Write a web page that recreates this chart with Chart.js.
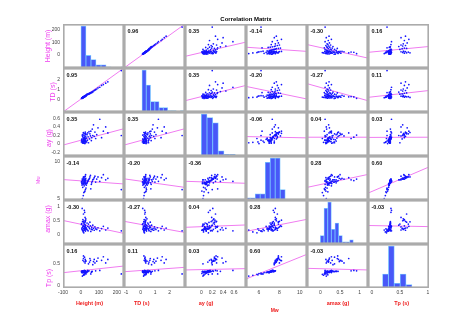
<!DOCTYPE html>
<html>
<head>
<meta charset="utf-8">
<title>Correlation Matrix</title>
<script src="https://cdn.jsdelivr.net/npm/chart.js@4.4.1/dist/chart.umd.min.js"></script>
<style>
  body { margin: 0; background: #fff; }
  #wrap { position: relative; width: 474px; height: 324px; overflow: hidden; font-family: "Liberation Sans", Arial, sans-serif; }
  #wrap canvas { position: absolute; left: 0; top: 0; }
  .lbl { position: absolute; white-space: nowrap; line-height: 1; transform: translate(-50%, -50%); }
  .ylbl { transform: translate(-50%, -50%) rotate(-90deg); }
</style>
</head>
<body>
<div id="wrap"></div>
<script>
// Variables in the matrix (same order for rows and columns)
const varNames = ["Height (m)", "TD (s)", "ay (g)", "Mw", "amax (g)", "Tp (s)"];

// Records, one entry per event
const heightM = [3, 5, 6, 8, 9, 10, 11, 12, 12, 13, 14, 15, 15, 16, 17, 18, 18, 19, 20, 20, 21, 22, 22, 23, 24, 24, 25, 25, 26, 27, 27, 28, 4, 7, 10, 14, 17, 21, 23, 26, 12, 19,
  30, 32, 34, 36, 38, 40, 42, 45, 48, 50, 53, 55, 58, 60, 63, 66, 70, 74, 78, 82, 88, 95, 105, 115, 125, 138, 150, 225];
const tdS = [0.12, 0.18, 0.15, 0.20, 0.22, 0.19, 0.24, 0.21, 0.27, 0.23, 0.28, 0.25, 0.30, 0.26, 0.31, 0.29, 0.33, 0.27, 0.34, 0.30, 0.36, 0.32, 0.37, 0.35, 0.38, 0.33, 0.40, 0.36, 0.41, 0.39, 0.43, 0.38, 0.16, 0.14, 0.25, 0.22, 0.26, 0.31, 0.40, 0.35, 0.19, 0.32,
  0.45, 0.52, 0.48, 0.55, 0.50, 0.58, 0.54, 0.62, 0.57, 0.66, 0.63, 0.70, 0.72, 0.68, 0.80, 0.75, 0.85, 0.90, 0.95, 0.98, 1.05, 1.15, 1.22, 1.40, 1.48, 1.62, 1.75, 2.85];
const ayG = [0.05, 0.08, 0.12, 0.03, 0.18, 0.06, 0.22, 0.09, 0.15, 0.04, 0.26, 0.10, 0.07, 0.13, 0.20, 0.02, 0.11, 0.16, 0.05, 0.24, 0.08, 0.14, 0.01, 0.19, 0.06, 0.28, 0.09, 0.12, 0.03, 0.17, 0.23, 0.07, 0.10, 0.21, 0.04, 0.27, 0.06, 0.13, 0.08, 0.25, 0.02, 0.11,
  0.14, 0.05, 0.22, 0.09, 0.26, 0.17, 0.03, 0.29, 0.12, 0.24, 0.19, 0.30, 0.08, 0.15, 0.35, 0.20, 0.45, 0.18, 0.28, 0.13, 0.22, 0.38, 0.58, 0.15, 0.30, 0.40, 0.26, 0.20];
const mw = [7.2, 7.0, 6.8, 5.0, 7.4, 7.1, 7.6, 6.9, 7.3, 5.4, 7.8, 7.0, 7.5, 5.8, 7.7, 7.2, 6.7, 7.4, 5.9, 7.9, 7.1, 7.3, 6.0, 7.6, 7.0, 8.0, 6.2, 7.2, 7.5, 7.4, 7.7, 6.4, 7.3, 7.6, 6.5, 7.9, 7.1, 7.5, 6.9, 8.2, 7.0, 7.2,
  6.8, 7.0, 7.1, 7.2, 7.3, 7.4, 7.5, 7.6, 7.7, 7.9, 8.1, 6.3, 6.9, 7.1, 7.3, 7.5, 7.6, 7.8, 8.0, 7.2, 7.6, 7.9, 7.3, 7.8, 8.2, 7.5, 7.7, 6.2];
const amaxG = [0.35, 0.22, 0.18, 0.15, 0.45, 0.25, 0.52, 0.12, 0.30, 0.08, 0.72, 0.20, 0.40, 0.05, 0.48, 0.16, 0.28, 0.85, 0.19, 0.36, 0.23, 0.42, 0.14, 0.60, 0.21, 0.46, 0.11, 0.26, 0.32, 0.24, 0.55, 0.17, 0.38, 0.92, 0.13, 0.44, 0.27, 0.78, 0.20, 0.50, 0.29, 0.34,
  0.22, 0.18, 0.40, 0.15, 0.28, 0.12, 0.36, 0.25, 0.20, 0.43, 0.30, 0.10, 0.18, 0.24, 0.16, 0.32, 0.21, 0.14, 0.26, 0.19, 0.17, 0.23, 0.12, 0.20, 0.28, 0.15, 0.22, 0.12];
const tpS = [0.32, 0.30, 0.31, 0.22, 0.33, 0.32, 0.58, 0.30, 0.34, 0.24, 0.62, 0.31, 0.33, 0.26, 0.55, 0.32, 0.30, 0.35, 0.25, 0.65, 0.32, 0.33, 0.28, 0.52, 0.31, 0.60, 0.29, 0.34, 0.33, 0.32, 0.56, 0.27, 0.33, 0.34, 0.30, 0.68, 0.32, 0.34, 0.31, 0.57, 0.32, 0.33,
  0.31, 0.30, 0.33, 0.32, 0.35, 0.33, 0.50, 0.34, 0.54, 0.62, 0.58, 0.27, 0.31, 0.32, 0.33, 0.48, 0.55, 0.60, 0.52, 0.34, 0.56, 0.63, 0.35, 0.58, 0.66, 0.52, 0.60, 0.27];
const records = [heightM, tdS, ayG, mw, amaxG, tpS];

// Histogram bins on the diagonal: first edge, bin width, counts
const histStart = [0, 0.09, 0, 4.65, 0, 0.19];
const histWidth = [28, 0.294, 0.104, 0.49, 0.093, 0.105];
const heightCounts = [40, 12, 8, 3, 3, 1, 0, 0, 1];
const tdCounts = [28, 18, 7, 7, 3, 3, 1, 1, 0, 1];
const ayCounts = [24, 22, 19, 3, 1, 1];
const mwCounts = [1, 1, 3, 3, 18, 20, 20, 5];
const amaxCounts = [4, 17, 20, 7, 10, 4, 1, 1, 2, 0];
const tpCounts = [12, 36, 4, 12, 3];
const histCounts = [heightCounts, tdCounts, ayCounts, mwCounts, amaxCounts, tpCounts];

// Correlation coefficients printed in each panel
const corrR = [
  [null, 0.96, 0.35, -0.14, -0.30, 0.16],
  [0.95, null, 0.35, -0.20, -0.27, 0.11],
  [0.35, 0.35, null, -0.06, 0.04, 0.03],
  [-0.14, -0.20, -0.36, null, 0.28, 0.60],
  [-0.30, -0.27, 0.04, 0.28, null, -0.03],
  [0.16, 0.11, 0.03, 0.60, -0.03, null]
];

// Least-squares lines: row variable value at the left and right end of the panel
const fitAtXMin = [
  [null, -110, -15, 60, 82, 18],
  [-1.2, null, -0.1, 1.3, 1.57, 0.23],
  [-0.024, -0.024, null, 0.175, 0.16, 0.155],
  [7.54, 7.64, 7.31, null, 6.49, 5.72],
  [0.49, 0.46, 0.245, 0.10, null, 0.31],
  [0.298, 0.32, 0.36, 0.155, 0.397, null]
];
const fitAtXMax = [
  [null, 250, 102, 26, -29, 66],
  [3.1, null, 1.4, 0.07, -0.1, 0.9],
  [0.36, 0.36, null, 0.144, 0.16, 0.16],
  [6.95, 6.49, 7.04, null, 8.23, 9.23],
  [0.027, 0.06, 0.33, 0.53, null, 0.27],
  [0.45, 0.42, 0.39, 0.716, 0.36, null]
];

// Axis ranges and tick labels per variable
const xMin = [-100, -1.15, -0.3, 4.73, -0.34, -0.07];
const xMax = [240, 3.05, 0.82, 10.7, 1.21, 1.02];
const yMin = [-110, -1.2, -0.28, 4.8, -0.35, -0.05];
const yMax = [250, 3.1, 0.75, 10.7, 1.22, 0.95];
const xTicks = [[-100, 0, 100, 200], [-1, 0, 1, 2], [0, 0.2, 0.4, 0.6], [6, 8, 10], [0, 0.5, 1], [0, 0.5, 1]];
const yTicks = [[0, 100, 200], [0, 1, 2], [-0.2, 0, 0.2, 0.4, 0.6], [5, 10], [0, 0.5, 1], [0, 0.5]];

// Page layout
const W = 474, H = 324;
const PX = 63, PY = 24, PW = 61, PH = 44;
const Y_AXIS_W = 30, X_AXIS_H = 14;
const FONT = '"Liberation Sans", Arial, sans-serif';
const yLabelPos = [[46.7, 46.3, 7], [52.3, 92, 7], [47.7, 137.7, 7], [38, 180, 5], [46.7, 218.7, 7], [47.7, 278, 7]];
const xLabelPos = [[89.5, 304, 5.5], [141.7, 304, 5.5], [206, 304, 5.5], [274.7, 310, 5], [338, 304, 5.5], [401.7, 304, 5.5]];

const wrap = document.getElementById('wrap');

// Draws the gray frame and the coefficient of every panel
const panelPlugin = {
  id: 'panel',
  afterDatasetsDraw(chart, args, opts) {
    const { ctx, chartArea: a } = chart;
    ctx.save();
    if (opts.text) {
      ctx.font = 'bold 5.5px ' + FONT;
      ctx.fillStyle = '#111';
      ctx.fillText(opts.text, a.left + 3.5, a.top + 9);
    }
    ctx.strokeStyle = '#ababab';
    ctx.lineWidth = 1.6;
    ctx.strokeRect(a.left + 0.8, a.top + 0.8, a.width - 1.6, a.height - 1.6);
    ctx.restore();
  }
};

function axisOpts(min, max, ticks, show, pos) {
  return {
    type: 'linear', position: pos, min: min, max: max, display: show, offset: false,
    grid: { display: false, drawTicks: false },
    border: { display: false },
    ticks: {
      font: { size: 5, family: FONT }, color: '#444',
      padding: pos === 'left' ? 3 : 2, maxRotation: 0, autoSkip: false,
      callback: v => String(v)
    },
    afterBuildTicks: s => { s.ticks = ticks.map(v => ({ value: v })); },
    afterFit: s => {
      if (!show) return;
      if (pos === 'left') s.width = Y_AXIS_W;
      else s.height = X_AXIS_H;
    }
  };
}

function makePanel(r, c) {
  const canvas = document.createElement('canvas');
  canvas.width = W;
  canvas.height = H;
  wrap.appendChild(canvas);

  const padding = {
    left: PX + c * PW - (c === 0 ? Y_AXIS_W : 0),
    top: PY + r * PH,
    right: W - (PX + (c + 1) * PW),
    bottom: H - (PY + (r + 1) * PH) - (r === 5 ? X_AXIS_H : 0)
  };
  const scales = {
    x: axisOpts(xMin[c], xMax[c], xTicks[c], r === 5, 'bottom'),
    y: axisOpts(yMin[r], yMax[r], yTicks[r], c === 0, 'left')
  };

  let type, datasets;
  if (r === c) {
    const counts = histCounts[c];
    type = 'bar';
    scales.yc = { type: 'linear', display: false, min: 0, max: Math.max(...counts) * 1.05 };
    datasets = [{
      data: counts.map((n, k) => ({ x: histStart[c] + (k + 0.5) * histWidth[c], y: n })),
      yAxisID: 'yc',
      backgroundColor: 'rgb(72,88,248)',
      borderColor: 'rgb(120,196,255)',
      borderWidth: 0.8,
      barPercentage: 1,
      categoryPercentage: 1
    }];
  } else {
    type = 'scatter';
    datasets = [
      {
        data: records[c].map((v, k) => ({ x: v, y: records[r][k] })),
        pointRadius: 0.85,
        pointBorderWidth: 0,
        pointBackgroundColor: '#1414ff'
      },
      {
        type: 'line',
        data: [{ x: xMin[c], y: fitAtXMin[r][c] }, { x: xMax[c], y: fitAtXMax[r][c] }],
        borderColor: '#f07cf0',
        borderWidth: 1,
        pointRadius: 0
      }
    ];
  }

  new Chart(canvas.getContext('2d'), {
    type: type,
    data: { datasets: datasets },
    options: {
      responsive: false,
      animation: false,
      events: [],
      layout: { padding: padding },
      scales: scales,
      plugins: {
        legend: { display: false },
        tooltip: { enabled: false },
        panel: { text: r === c ? '' : corrR[r][c].toFixed(2) }
      }
    },
    plugins: [panelPlugin]
  });
}

function addLabel(text, x, y, size, color, bold, rotated) {
  const el = document.createElement('div');
  el.className = rotated ? 'lbl ylbl' : 'lbl';
  el.textContent = text;
  el.style.left = x + 'px';
  el.style.top = y + 'px';
  el.style.fontSize = size + 'px';
  el.style.color = color;
  el.style.fontWeight = bold ? 'bold' : 'normal';
  wrap.appendChild(el);
}

document.addEventListener('DOMContentLoaded', () => {
  for (let r = 0; r < 6; r++) {
    for (let c = 0; c < 6; c++) makePanel(r, c);
  }
  addLabel('Correlation Matrix', 246, 18.5, 6, '#000', true, false);
  varNames.forEach((name, i) => {
    addLabel(name, yLabelPos[i][0], yLabelPos[i][1], yLabelPos[i][2], '#ee3cee', false, true);
    addLabel(name, xLabelPos[i][0], xLabelPos[i][1], xLabelPos[i][2], '#ee1c1c', true, false);
  });
});
</script>
</body>
</html>
